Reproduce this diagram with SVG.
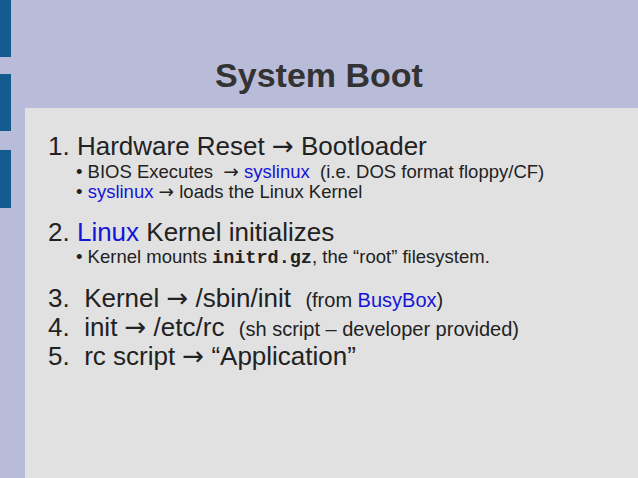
<svg xmlns="http://www.w3.org/2000/svg" width="638" height="478" viewBox="0 0 638 478" xml:space="preserve">
<style>
text{font-family:"Liberation Sans",Arial,sans-serif;fill:#222;white-space:pre}
.h{font-size:26px}.s{font-size:18.5px}.b{fill:#1515d8}
.m{font-family:"Liberation Mono",monospace;font-weight:bold}
.a{font-family:"DejaVu Sans",sans-serif}
</style>
<rect width="638" height="478" fill="#b9bcd9"/>
<g fill="#155a8e"><rect x="0" y="0" width="11" height="57"/><rect x="0" y="74" width="11" height="57"/><rect x="0" y="150" width="11" height="58"/></g>
<rect x="25" y="108" width="613" height="370" fill="#e1e1e1"/>
<text x="319" y="87" text-anchor="middle" font-size="34" font-weight="bold" style="fill:#333">System Boot</text>
<text class="h" x="48" y="155">1. Hardware Reset <tspan class="a">→</tspan> Bootloader</text>
<text class="s" x="76" y="178">• BIOS Executes  <tspan class="a">→</tspan> <tspan class="b">syslinux</tspan>  (i.e. DOS format floppy/CF)</text>
<text class="s" x="76" y="198">• <tspan class="b">syslinux</tspan> <tspan class="a">→</tspan> loads the Linux Kernel</text>
<text class="h" x="48" y="241">2. <tspan class="b">Linux</tspan> Kernel initializes</text>
<text class="s" x="76" y="263">• Kernel mounts <tspan class="m">initrd.gz</tspan>, the “root” filesystem.</text>
<text class="h" x="48" y="307">3.  Kernel <tspan class="a">→</tspan> /sbin/init  <tspan font-size="20">(from <tspan class="b">BusyBox</tspan>)</tspan></text>
<text class="h" x="48" y="336">4.  init <tspan class="a">→</tspan> /etc/rc  <tspan font-size="20">(sh script – developer provided)</tspan></text>
<text class="h" x="48" y="365">5.  rc script <tspan class="a">→</tspan> “Application”</text>
</svg>
